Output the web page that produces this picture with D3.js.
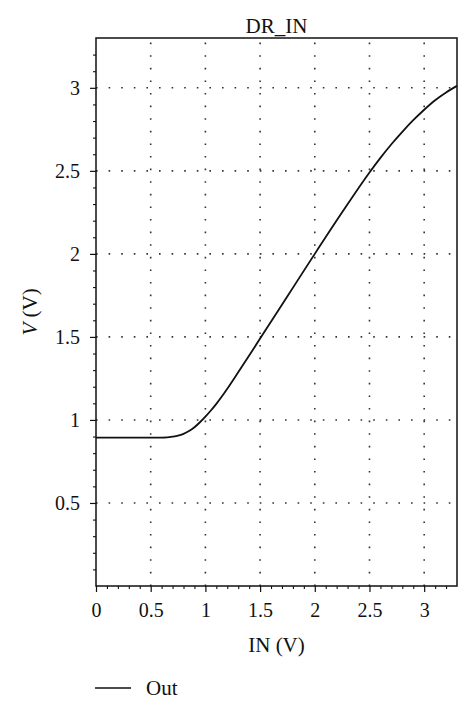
<!DOCTYPE html>
<html>
<head>
<meta charset="utf-8">
<script src="https://cdn.jsdelivr.net/npm/d3@7"></script>
<style>
  html, body { margin: 0; padding: 0; background: #fff; }
  svg { display: block; }
  text { font-family: "Liberation Serif", "DejaVu Serif", serif; fill: #111; }
</style>
</head>
<body>
<svg id="chart" width="474" height="716"></svg>
<script>
const title = "DR_IN";
const xLabel = "IN (V)";
const seriesName = "Out";
const xTicks = [0, 0.5, 1, 1.5, 2, 2.5, 3];
const yTicks = [0.5, 1, 1.5, 2, 2.5, 3];
const xIn = [0, 0.2, 0.4, 0.6, 0.65, 0.7, 0.75, 0.8, 0.85, 0.9, 0.95, 1.0, 1.05, 1.1, 1.15, 1.2, 1.3, 1.5, 1.75, 2.0, 2.25, 2.5, 2.6, 2.7, 2.8, 2.9, 3.0, 3.1, 3.2, 3.3];
const vOut = [0.894, 0.894, 0.894, 0.894, 0.895, 0.899, 0.905, 0.916, 0.933, 0.956, 0.986, 1.020, 1.057, 1.097, 1.141, 1.188, 1.287, 1.49, 1.745, 2.0, 2.25, 2.49, 2.578, 2.660, 2.735, 2.805, 2.868, 2.925, 2.972, 3.012];

const svg = d3.select("#chart");
const m = {left: 96, top: 38, right: 457, bottom: 586};
const x = d3.scaleLinear().domain([0, 3.3]).range([m.left, m.right]);
const y = d3.scaleLinear().domain([0, 3.3]).range([m.bottom, m.top]);

// grid
const grid = svg.append("g").attr("stroke", "#333").attr("stroke-width", 1.6).attr("stroke-dasharray", "1.6,11");
grid.selectAll("line.vx").data(xTicks.filter(d => d > 0)).join("line")
  .attr("x1", d => x(d)).attr("x2", d => x(d)).attr("y1", m.bottom).attr("y2", m.top);
grid.selectAll("line.hy").data(yTicks).join("line")
  .attr("y1", d => y(d)).attr("y2", d => y(d)).attr("x1", m.left).attr("x2", m.right);

// minor ticks
const minor = d3.range(0, 33).map(i => i / 10).filter(v => !xTicks.includes(v) && v > 0);
const minorY = d3.range(1, 33).map(i => i / 10).filter(v => !yTicks.includes(v));

const xAxis = svg.append("g").attr("transform", `translate(0,${m.bottom})`)
  .call(d3.axisBottom(x).tickValues(xTicks).tickSize(6).tickFormat(d3.format("")));
xAxis.select(".domain").remove();
xAxis.selectAll("line").attr("stroke", "#111").attr("stroke-width", 1.2);
xAxis.selectAll("text").attr("font-size", 20).attr("y", 0).attr("dy", 0).attr("transform", "translate(0,31)");
const xMinor = svg.append("g").attr("transform", `translate(0,${m.bottom})`)
  .call(d3.axisBottom(x).tickValues(minor).tickSize(3).tickFormat(""));
xMinor.select(".domain").remove();
xMinor.selectAll("line").attr("stroke", "#111").attr("stroke-width", 1.1);

const yAxis = svg.append("g").attr("transform", `translate(${m.left},0)`)
  .call(d3.axisLeft(y).tickValues(yTicks).tickSize(6).tickFormat(d3.format("")));
yAxis.select(".domain").remove();
yAxis.selectAll("line").attr("stroke", "#111").attr("stroke-width", 1.2);
yAxis.selectAll("text").attr("font-size", 20).attr("x", -16);
const yMinor = svg.append("g").attr("transform", `translate(${m.left},0)`)
  .call(d3.axisLeft(y).tickValues(minorY).tickSize(3).tickFormat(""));
yMinor.select(".domain").remove();
yMinor.selectAll("line").attr("stroke", "#111").attr("stroke-width", 1.1);

// frame
svg.append("rect").attr("x", m.left).attr("y", m.top)
  .attr("width", m.right - m.left).attr("height", m.bottom - m.top)
  .attr("fill", "none").attr("stroke", "#111").attr("stroke-width", 1.5);

// curve
const data = xIn.map((d, i) => [d, vOut[i]]);
svg.append("path").datum(data)
  .attr("fill", "none").attr("stroke", "#111").attr("stroke-width", 1.8)
  .attr("d", d3.line().x(d => x(d[0])).y(d => y(d[1])).curve(d3.curveMonotoneX));

// title
svg.append("text").attr("x", (m.left + m.right) / 2).attr("y", 33)
  .attr("text-anchor", "middle").attr("font-size", 21).text(title);

// x label
svg.append("text").attr("x", (m.left + m.right) / 2).attr("y", 652)
  .attr("text-anchor", "middle").attr("font-size", 21).text(xLabel);

// y label
const yl = svg.append("text").attr("transform", `translate(37,${(m.top + m.bottom) / 2}) rotate(-90)`)
  .attr("text-anchor", "middle").attr("font-size", 21);
yl.append("tspan").attr("font-style", "italic").text("V");
yl.append("tspan").text(" (V)");

// legend
svg.append("line").attr("x1", 95).attr("x2", 131).attr("y1", 688).attr("y2", 688)
  .attr("stroke", "#111").attr("stroke-width", 1.6);
svg.append("text").attr("x", 146).attr("y", 695).attr("font-size", 21).text(seriesName);
</script>
</body>
</html>
